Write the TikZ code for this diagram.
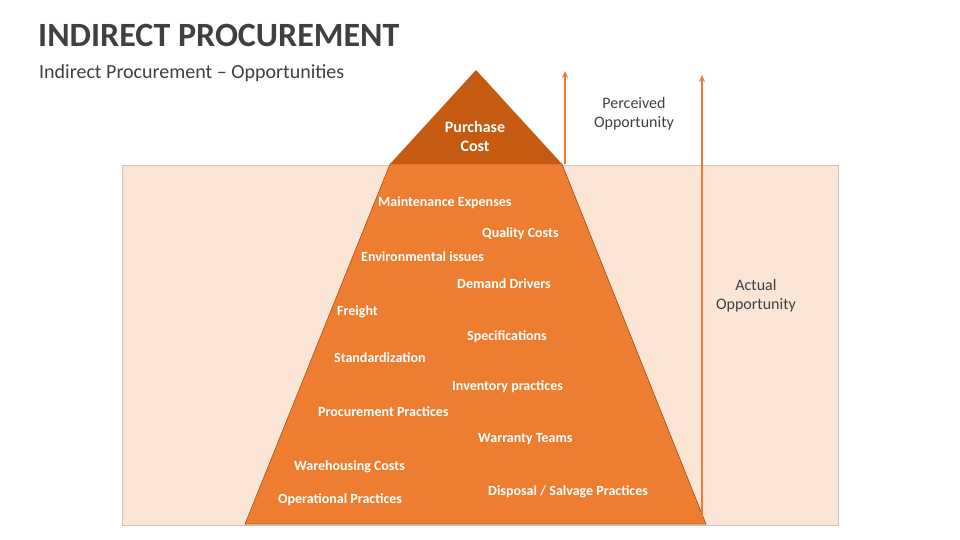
\documentclass[tikz,border=0pt]{standalone}
\usepackage{fontspec}
\setmainfont{Carlito}
\usetikzlibrary{arrows.meta}
\definecolor{org}{HTML}{ED7D31}
\definecolor{dorg}{HTML}{C55A11}
\definecolor{peach}{HTML}{FBE5D6}
\definecolor{tx}{HTML}{404040}
\begin{document}
\begin{tikzpicture}[x=1pt,y=-1pt,
  lbl/.style={anchor=west,text=white,font=\fontsize{14}{16}\selectfont\bfseries,inner sep=0},
  side/.style={text=tx,font=\fontsize{16}{19}\selectfont,align=center},
  arr/.style={draw=org,line width=1.8pt,-{Stealth[length=7pt,width=6pt]}}]
\useasboundingbox (0,0) rectangle (960,540);
\fill[white] (0,0) rectangle (960,540);
\fill[peach,draw=peach!85!black,line width=0.3pt] (122,165) rectangle (838,525);
\fill[org,draw=dorg!80!black,line width=0.5pt] (390,164) -- (562,164) -- (706,524) -- (245,524) -- cycle;
\fill[dorg] (476,70) -- (562,164) -- (390,164) -- cycle;
\node[anchor=west,text=tx,font=\fontsize{34}{38}\selectfont\bfseries,inner sep=0] (title) at (38,35) {INDIRECT PROCUREMENT};
\node[anchor=west,text=tx,font=\fontsize{20}{24}\selectfont,inner sep=0] (sub) at (39,73) {Indirect Procurement -- Opportunities};
\node[text=white,font=\fontsize{16}{19}\selectfont\bfseries,align=center] (pc) at (475,136) {Purchase\\Cost};
\coordinate (a1s) at (565,164); \coordinate (a1e) at (565,71);
\coordinate (a2s) at (702,524); \coordinate (a2e) at (702,75);
\draw[arr] (a1s) -- (a1e);
\draw[arr] (a2s) -- (a2e);
\node[side] (po) at (634,114) {Perceived\\Opportunity};
\node[side] (ao) at (756,296) {Actual\\Opportunity};
\node[lbl] (l1) at (378,203) {Maintenance Expenses};
\node[lbl] (l2) at (482,234) {Quality Costs};
\node[lbl] (l3) at (361,257) {Environmental issues};
\node[lbl] (l4) at (457,284) {Demand Drivers};
\node[lbl] (l5) at (337,312) {Freight};
\node[lbl] (l6) at (467,337) {Specifications};
\node[lbl] (l7) at (334,358) {Standardization};
\node[lbl] (l8) at (452,387) {Inventory practices};
\node[lbl] (l9) at (318,412) {Procurement Practices};
\node[lbl] (l10) at (478,439) {Warranty Teams};
\node[lbl] (l11) at (294,467) {Warehousing Costs};
\node[lbl] (l12) at (278,500) {Operational Practices};
\node[lbl] (l13) at (488,492) {Disposal / Salvage Practices};
\end{tikzpicture}
\end{document}
